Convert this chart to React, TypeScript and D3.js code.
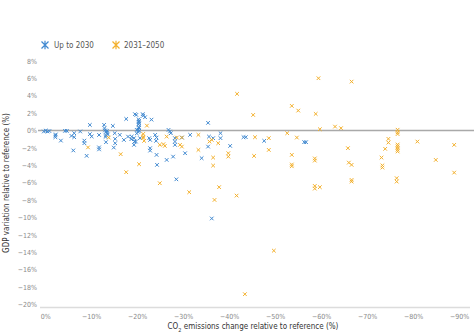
import React from "react";
import * as d3 from "d3";

const W = 474;
const H = 334;

const seriesNames = ["Up to 2030", "2031–2050"];
const seriesColors = ["#4189d0", "#f3b02c"];

const xTicks = [0, -10, -20, -30, -40, -50, -60, -70, -80, -90];
const yTicks = [8, 6, 4, 2, 0, -2, -4, -6, -8, -10, -12, -14, -16, -18, -20];

// [CO2 change %, GDP variation %]
const upTo2030: [number, number][] = [
  [0.4, -0.1], [0, 0], [-0.4, -0.1], [-0.8, -0.05], [-2.1, -0.57], [-2.1, -0.76], [-2.2, -0.44],
  [-3.3, -1.15], [-4.2, -0.03], [-4.6, -0.03], [-5.6, -0.61], [-6.2, -0.76], [-6.2, -0.3],
  [-6.0, -2.28], [-7.5, -0.1], [-8.4, -1.15], [-8.4, -1.45], [-8.9, -2.9], [-9.6, 0.65],
  [-9.6, -0.41], [-10.0, -0.67], [-11.6, -0.5], [-11.6, -1.93], [-11.6, -2.16], [-12.7, 0.66],
  [-12.8, 0.28], [-12.9, 0.02], [-13.1, -0.15], [-13.3, -0.26], [-13.5, -0.44], [-13.1, -0.55],
  [-13.0, -0.72], [-13.3, -0.03], [-13.1, -1.33], [-14.6, 0.54], [-15.0, -0.3], [-15.1, -0.95],
  [-15.1, -1.45], [-14.8, -1.95], [-16.1, -0.49], [-17.0, -1.07], [-17.5, 1.34], [-17.9, -0.69],
  [-18.6, -0.99], [-19.3, -1.26], [-19.7, 1.8], [-19.4, 1.89], [-20.3, 1.11], [-20.3, 0.85],
  [-21.2, 1.72], [-23.0, 1.26], [-19.8, 0.08], [-20.3, -0.03], [-20.1, -0.15], [-19.8, -0.32],
  [-20.3, 0.31], [-18.7, -0.69], [-19.2, -0.87], [-19.6, -1.26], [-19.2, -1.64], [-20.5, -0.87],
  [-22.5, -0.87], [-22.7, -1.07], [-22.7, -2.02], [-22.7, -2.3], [-23.8, -0.49], [-24.1, -0.8],
  [-24.1, -2.79], [-24.0, -1.18], [-26.7, 0.08], [-27.0, -0.11], [-27.2, -0.3], [-26.3, -3.37],
  [-27.7, -2.99], [-28.1, -0.87], [-28.1, -1.26], [-28.1, -1.64], [-29.6, -0.8], [-30.3, -2.6],
  [-31.4, -0.49], [-33.9, -3.17], [-35.3, 0.89], [-35.5, -0.69], [-35.3, -1.84], [-36.4, -0.87],
  [-38.0, -0.3], [-38.0, -0.87], [-24.2, -3.94], [-28.4, -5.6], [-36.1, -10.1], [-40.1, -1.76],
  [-43.0, -0.76], [-43.5, -0.76], [-47.5, -1.18], [-56.2, -1.33], [-56.6, -1.33], [-21.1, 1.89],
  [-21.6, 1.54], [-20.2, 1.3], [-20.2, 1.0], [-20.2, 0.7], [-20.2, 0.4], [-20.2, 0.1],
];

const from2031: [number, number][] = [
  [-9.2, -1.93], [-13.7, -0.8], [-16.3, -2.71], [-17.5, -4.78], [-20.3, -3.86], [-22.0, 0.57],
  [-21.4, -1.18], [-21.2, -0.69], [-21.2, -0.38], [-21.2, -0.84], [-24.8, -1.64], [-25.6, -1.56],
  [-25.9, -1.76], [-26.3, -0.69], [-28.5, -0.8], [-29.6, -1.84], [-29.2, -1.64], [-33.2, -0.49],
  [-33.2, -2.22], [-35.6, -1.26], [-36.1, -1.07], [-36.4, -3.1], [-36.4, -4.02], [-37.5, -1.45],
  [-39.7, -2.6], [-39.7, -2.99], [-24.8, -6.05], [-31.2, -7.08], [-37.7, -6.5], [-36.7, -7.97],
  [-41.5, -7.47], [-41.6, 4.22], [-45.1, 1.8], [-53.5, 2.84], [-54.9, 2.3], [-58.7, 1.92],
  [-62.9, 0.46], [-64.2, 0.28], [-59.6, 0.16], [-52.5, -0.3], [-45.5, -0.76], [-48.5, -0.87],
  [-48.5, -2.22], [-54.6, -0.8], [-45.3, -2.91], [-53.5, -2.79], [-53.5, -3.9], [-53.5, -4.1],
  [-58.5, -3.2], [-58.5, -3.45], [-65.7, -2.02], [-65.9, -3.68], [-66.5, -3.94], [-58.5, -6.36],
  [-58.5, -6.67], [-59.6, -6.5], [-66.5, -5.67], [-66.5, -5.86], [-59.3, 6.02], [-66.5, 5.63],
  [-76.5, 0.1], [-76.5, -0.2], [-76.5, -0.4], [-74.5, -0.95], [-74.5, -1.38], [-73.8, -2.1],
  [-76.5, -1.6], [-76.5, -1.8], [-76.5, -2.0], [-76.5, -2.2], [-76.5, -2.4], [-80.8, -1.26],
  [-88.8, -1.64], [-73.0, -3.1], [-73.2, -4.0], [-73.2, -4.25], [-84.8, -3.37], [-88.8, -4.83],
  [-76.3, -5.47], [-76.3, -5.86], [-49.6, -13.8], [-43.3, -18.8], [-29.6, -0.8],
];

const FONT = "'Liberation Sans Narrow', 'DejaVu Sans Condensed', 'Roboto', sans-serif";

function Cross({ x, y, color, s = 1.8 }: { x: number; y: number; color: string; s?: number }) {
  return (
    <path
      d={`M${x - s},${y - s}L${x + s},${y + s}M${x + s},${y - s}L${x - s},${y + s}`}
      stroke={color}
      strokeWidth={1}
      fill="none"
    />
  );
}

function Star({ x, y, color, s = 4 }: { x: number; y: number; color: string; s?: number }) {
  return (
    <path
      d={`M${x - s},${y - s}L${x + s},${y + s}M${x + s},${y - s}L${x - s},${y + s}M${x},${y - s * 1.2}L${x},${y + s * 1.2}`}
      stroke={color}
      strokeWidth={1.2}
      fill="none"
    />
  );
}

export default function App() {
  const x = d3.scaleLinear().domain([0, -90]).range([45.7, 459.7]);
  const y = d3.scaleLinear().domain([8, -20]).range([61, 304.6]);
  const fmt = (v: number) => (v < 0 ? "\u2212" + Math.abs(v) : String(v)) + "%";
  const series = [upTo2030, from2031];

  return (
    <svg
      width={W}
      height={H}
      style={{ position: "absolute", left: 0, top: 0, background: "#fff" }}
      fontFamily={FONT}
    >
      <line x1={40} x2={470} y1={307.5} y2={307.5} stroke="#dcdcdc" strokeWidth={1.5} />
      {yTicks.map((t) => (
        <text key={"y" + t} x={37} y={y(t) + 2.5} textAnchor="end" fontSize={7} fill="#8a8a8a">
          {fmt(t)}
        </text>
      ))}
      {xTicks.map((t) => (
        <text key={"x" + t} x={x(t)} y={318.5} textAnchor="middle" fontSize={7} fill="#8a8a8a">
          {fmt(t)}
        </text>
      ))}
      <line x1={38} x2={474} y1={y(0)} y2={y(0)} stroke="#a9a9a9" strokeWidth={1.5} />
      {series.map((data, si) => (
        <g key={si}>
          {data.map((d, i) => (
            <Cross key={i} x={x(d[0])} y={y(d[1])} color={seriesColors[si]} />
          ))}
        </g>
      ))}
      <Star x={45} y={45} color={seriesColors[0]} s={3.5} />
      <text x={54} y={48} fontSize={8} fill="#555">{seriesNames[0]}</text>
      <Star x={116} y={45} color={seriesColors[1]} s={3.5} />
      <text x={124} y={48} fontSize={8} fill="#555">{seriesNames[1]}</text>
      <text
        transform={`translate(9,183) rotate(-90)`}
        textAnchor="middle"
        fontSize={8}
        fill="#333"
      >
        GDP variation relative to reference (%)
      </text>
      <text x={253} y={328.5} textAnchor="middle" fontSize={8} fill="#333">
        CO<tspan baselineShift="sub" fontSize={5.5}>2</tspan> emissions change relative to reference (%)
      </text>
    </svg>
  );
}
